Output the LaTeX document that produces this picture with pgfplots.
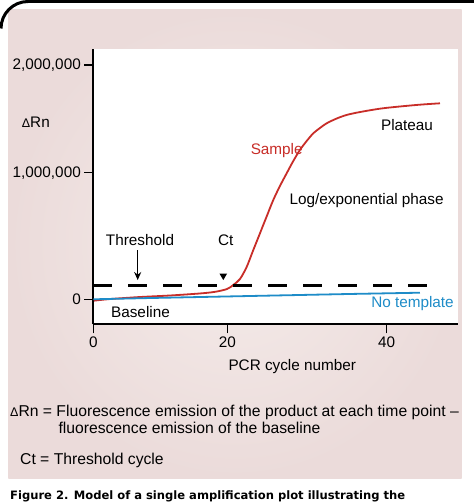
\documentclass[border=0pt]{standalone}
\usepackage{fontspec}
\setmainfont{Liberation Sans}
\newfontfamily\capfont{DejaVu Sans}
\usepackage{graphicx}
\usepackage{pgfplots}
\pgfplotsset{compat=1.18}
\usetikzlibrary{arrows.meta}
\definecolor{pinkbg}{RGB}{235,219,218}
\definecolor{pinkin}{RGB}{245,236,234}
\definecolor{samplered}{RGB}{200,45,40}
\definecolor{ntblue}{RGB}{30,140,200}
\newcommand\mainsz{\fontsize{15.3bp}{18bp}\selectfont}
\newcommand\footsz{\fontsize{15.7bp}{18bp}\selectfont}
\newcommand\dRn{{\fontsize{12.5bp}{14bp}\selectfont Δ}Rn}
\begin{document}
\begin{tikzpicture}
\useasboundingbox (0,0) rectangle (474bp,502bp);
\begin{scope}
\clip (0,0) rectangle (474bp,502bp);
\fill[white] (0,0) rectangle (474bp,502bp);
\shade[inner color=pinkin, outer color=pinkbg] (8.3bp,23bp) rectangle (461.7bp,492.7bp);
\draw[line width=3bp] (474bp,500.5bp) -- (28bp,500.5bp) arc[start angle=90, end angle=180, radius=27bp];
\begin{axis}[
  at={(93.3bp,177.7bp)}, anchor=south west,
  scale only axis, width=364.7bp, height=275.3bp,
  xmin=3.19, xmax=48.95, ymin=-0.1975, ymax=1.977,
  axis lines=left, axis line style={-, line width=1.6bp, black},
  axis background/.style={fill=white},
  tick align=outside, major tick length=9bp,
  tick style={line width=1.4bp, black},
  xtick={3.19,20,40}, xticklabels={0,20,40},
  ytick={0,1,1.851}, yticklabels={0,{1,000,000},{2,000,000}},
  tick label style={font=\mainsz},
  clip=false,
]
\addplot[samplered, line width=1.8bp, smooth] coordinates {
(3.27,-0.011) (5.28,0.002) (9.05,0.018) (12.81,0.030) (16.57,0.046)
(18.46,0.059) (19.96,0.081) (20.75,0.113) (21.59,0.160) (22.43,0.255)
(23.22,0.382) (24.10,0.521) (24.94,0.654) (25.77,0.784) (26.61,0.895)
(27.45,0.995) (28.28,1.092) (29.12,1.180) (29.96,1.250) (30.79,1.311)
(31.63,1.353) (32.47,1.390) (33.73,1.428) (34.98,1.456) (36.65,1.479)
(39.57,1.509) (43.76,1.535) (46.69,1.548)};
\addplot[ntblue, line width=1.8bp] coordinates {
(3.19,0.000) (10.30,0.010) (22.85,0.026) (35.40,0.042) (44.18,0.052)};
\addplot[black, line width=3.5bp, dash pattern=on 18.3bp off 16.7bp] coordinates {
(3.19,0.107) (45.01,0.107)};
\draw[-{Stealth[length=8bp,width=7bp]}, line width=1.3bp] (axis cs:8.76,0.389) -- (axis cs:8.76,0.152);
\fill (axis cs:19.5,0.152) -- (axis cs:19.02,0.203) -- (axis cs:19.98,0.203) -- cycle;
\node[font=\mainsz, text=samplered, anchor=base] at (axis cs:26.20,1.146) {Sample};
\node[font=\mainsz, anchor=base] at (axis cs:42.55,1.336) {Plateau};
\node[font=\mainsz, anchor=base] at (axis cs:37.49,0.748) {Log/exponential phase};
\node[font=\mainsz, anchor=base] at (axis cs:9.05,0.424) {Threshold};
\node[font=\mainsz, anchor=base] at (axis cs:19.81,0.424) {Ct};
\node[font=\mainsz, anchor=base] at (axis cs:9.11,-0.144) {Baseline};
\node[font=\mainsz, text=ntblue, anchor=base] at (axis cs:43.24,-0.065) {No template};
\end{axis}
\node[font=\mainsz, anchor=base west, inner sep=0] at (21.7bp,374.7bp) {\dRn};
\node[font=\mainsz, anchor=base west, inner sep=0] at (228.3bp,131bp) {PCR cycle number};
\node[font=\footsz, anchor=base west, inner sep=0] at (10bp,85.3bp) {\dRn{} = Fluorescence emission of the product at each time point –};
\node[font=\footsz, anchor=base west, inner sep=0] at (58.3bp,68bp) {fluorescence emission of the baseline};
\node[font=\footsz, anchor=base west, inner sep=0] at (20bp,38bp) {Ct = Threshold cycle};
\node[anchor=base west, inner sep=0] at (10bp,2.5bp) {\resizebox{395bp}{!}{\capfont\bfseries Figure 2. Model of a single amplification plot illustrating the}};
\end{scope}
\end{tikzpicture}
\end{document}
